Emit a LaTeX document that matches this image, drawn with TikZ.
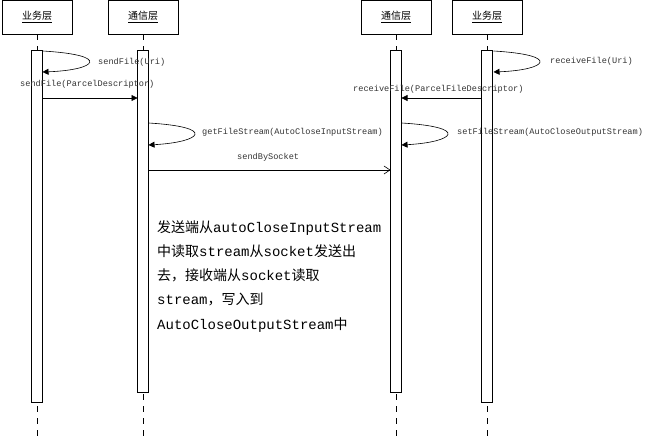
\documentclass[tikz,border=0pt]{standalone}
\usepackage{fontspec}
\setmainfont{Liberation Mono}
\newfontfamily\cjk{Noto Sans CJK SC}
\usetikzlibrary{arrows.meta}
\begin{document}
\begin{tikzpicture}[x=1pt,y=-1pt,
 head/.style={draw,line width=0.8pt,minimum width=70pt,minimum height=34pt,inner sep=0pt,font=\cjk\fontsize{10}{10}\selectfont},
 bar/.style={draw,fill=white,line width=0.6pt},
 life/.style={dashed,line width=0.6pt,dash pattern=on 6pt off 6pt},
 msg/.style={-{Triangle[length=6pt,width=6pt]},line width=0.6pt},
 lbl/.style={font=\fontsize{8.6}{9}\selectfont,inner sep=0pt,anchor=west,text=black!80},
 self/.style={-{Triangle[length=6pt,width=6pt]},line width=0.6pt}]
\useasboundingbox (0,0) rectangle (650,436);
\node[head] (h1) at (37,17) {\underline{业务层}};
\node[head] (h2) at (143,17) {\underline{通信层}};
\node[head] (h3) at (396,17) {\underline{通信层}};
\node[head] (h4) at (487,17) {\underline{业务层}};
\foreach \n/\x/\b in {1/37/402,2/143/392,3/396/392,4/487/402}{
 \coordinate (e\n) at (\x,436);
 \draw[life] (h\n.south) -- (e\n);
 \draw[bar] (\x-5.5,50) rectangle (\x+5.5,\b);
}
\coordinate (a1) at (42.5,51); \coordinate (b1) at (42.5,72);
\draw[self] (a1) .. controls (112,55) and (97,70) .. (b1);
\node[lbl] (t1) at (98,62) {sendFile(Uri)};
\node[lbl] (t2) at (20,84) {sendFile(ParcelDescriptor)};
\coordinate (a2) at (42.5,98); \coordinate (b2) at (137.5,98);
\draw[msg] (a2) -- (b2);
\coordinate (a3) at (493.5,51); \coordinate (b3) at (493.5,72);
\draw[self] (a3) .. controls (562,55) and (547,70) .. (b3);
\node[lbl] (t3) at (550,61) {receiveFile(Uri)};
\node[lbl] (t4) at (353,89) {receiveFile(ParcelFileDescriptor)};
\coordinate (a4) at (481.5,98); \coordinate (b4) at (401.5,98);
\draw[msg] (a4) -- (b4);
\coordinate (a5) at (148.5,123); \coordinate (b5) at (148.5,145);
\draw[self] (a5) .. controls (217,127) and (202,142) .. (b5);
\node[lbl] (t5) at (202,132) {getFileStream(AutoCloseInputStream)};
\coordinate (a6) at (401.5,123); \coordinate (b6) at (401.5,145);
\draw[self] (a6) .. controls (470,127) and (455,142) .. (b6);
\node[lbl] (t6) at (457,132) {setFileStream(AutoCloseOutputStream)};
\node[lbl] (t7) at (237,157) {sendBySocket};
\coordinate (a7) at (148.5,170); \coordinate (b7) at (390.5,170);
\draw[-{Straight Barb[length=6pt,width=8pt]},line width=0.6pt] (a7) -- (b7);
\node[anchor=north west,align=left,inner sep=0pt,font=\fontsize{14}{24.3}\selectfont] (txt) at (157,220)
 {{\cjk 发送端从}autoCloseInputStream\\{\cjk 中读取}stream{\cjk 从}socket{\cjk 发送出}\\{\cjk 去，接收端从}socket{\cjk 读取}\\stream{\cjk ，写入到}\\AutoCloseOutputStream{\cjk 中}};
\end{tikzpicture}
\end{document}
